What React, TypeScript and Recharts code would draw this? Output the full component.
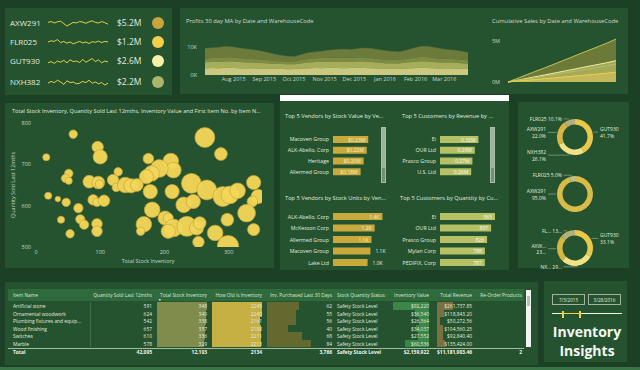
import React from 'react'
import {
  LineChart,
  Line,
  AreaChart,
  Area,
  XAxis,
  YAxis,
  ScatterChart,
  Scatter,
  ZAxis,
  BarChart,
  Bar,
  LabelList,
  PieChart,
  Pie,
  Cell,
} from 'recharts'

const FONT = '"Open Sans", "Noto Sans", Arial, sans-serif'
const PAGE_BG = '#1b4025'
const PANEL_BG = '#25532f'
const TXT = '#e3ebdf'
const TICK = '#c9d6c4'

// KPI strip
const warehouseCodes = ['AXW291', 'FLR025', 'GUT930', 'NXH382']
const warehouseSales = ['$5.2M', '$1.2M', '$2.6M', '$2.2M']
const warehouseDots = ['#c9a53c', '#f4cf4c', '#f6f1a4', '#a9b66c']
const sparkAXW291 = [52, 55, 50, 54, 56, 48, 40, 46, 52, 50, 55, 53, 49, 54, 57, 52, 50, 55, 51, 46]
const sparkFLR025 = [50, 54, 52, 58, 48, 52, 46, 50, 44, 48, 52, 47, 50, 45, 51, 49, 53, 48, 52, 50]
const sparkGUT930 = [44, 48, 42, 50, 46, 52, 44, 54, 48, 50, 45, 55, 46, 52, 58, 48, 54, 44, 50, 47]
const sparkNXH382 = [46, 52, 48, 56, 50, 42, 54, 48, 50, 44, 46, 52, 48, 56, 46, 50, 44, 48, 40, 46]
const sparklines = [sparkAXW291, sparkFLR025, sparkGUT930, sparkNXH382]

// Profits 30 day MA (K), day offset from 7/3/2015
const profitDays = [0, 7, 14, 21, 28, 35, 42, 49, 56, 63, 70, 77, 84, 91, 98, 105, 112, 119, 126, 133, 140, 147, 154, 161, 168, 175, 182, 189, 196, 203, 210, 217, 224, 231, 238, 245, 252, 259, 266]
const profitGUT930 = [2.3, 2.5, 2.4, 2.6, 2.5, 2.4, 2.3, 2.4, 2.2, 2.3, 2.1, 2.2, 2.0, 2.1, 2.3, 2.4, 2.5, 2.4, 2.6, 2.5, 2.4, 2.5, 2.6, 2.5, 2.4, 2.3, 2.2, 2.3, 2.1, 2.3, 2.4, 2.6, 2.5, 2.4, 2.3, 2.4, 2.3, 2.2, 2.1]
const profitFLR025 = [2.2, 2.1, 2.3, 2.2, 2.4, 2.2, 2.1, 2.0, 2.1, 1.9, 1.8, 1.7, 1.8, 1.7, 1.9, 2.0, 2.1, 2.2, 2.1, 2.3, 2.2, 2.1, 2.2, 2.3, 2.2, 2.1, 2.0, 1.9, 2.0, 2.1, 2.2, 2.3, 2.4, 2.2, 2.1, 2.0, 2.1, 2.0, 1.9]
const profitNXH382 = [1.3, 1.4, 1.3, 1.5, 1.4, 1.3, 1.4, 1.3, 1.2, 1.2, 1.1, 1.0, 1.0, 1.1, 1.2, 1.3, 1.3, 1.4, 1.3, 1.4, 1.5, 1.4, 1.4, 1.5, 1.4, 1.3, 1.3, 1.2, 1.3, 1.3, 1.4, 1.5, 1.5, 1.4, 1.4, 1.3, 1.3, 1.2, 1.2]
const profitAXW291 = [3.6, 3.6, 3.8, 3.8, 3.6, 3.6, 3.4, 3.2, 3.0, 2.6, 2.4, 2.0, 1.8, 1.6, 1.9, 2.2, 2.3, 2.4, 2.8, 2.8, 3.0, 3.0, 3.1, 3.2, 3.4, 3.3, 3.1, 2.9, 2.8, 3.0, 3.4, 3.6, 3.8, 3.8, 3.5, 3.3, 3.1, 3.0, 2.7]
const monthTicks = [29, 60, 90, 121, 151, 182, 213, 242]
const monthLabels = ['Aug 2015', 'Sep 2015', 'Oct 2015', 'Nov 2015', 'Dec 2015', 'Jan 2016', 'Feb 2016', 'Mar 2016']

// Cumulative sales ($M)
const cumDays = [0, 29, 60, 90, 121, 151, 182, 213, 242, 266]
const cumAXW291 = [0, 0.56, 1.16, 1.72, 2.33, 2.92, 3.55, 4.15, 4.72, 5.25]
const cumGUT930 = [0, 0.27, 0.57, 0.86, 1.16, 1.45, 1.76, 2.06, 2.34, 2.6]
const cumNXH382 = [0, 0.23, 0.47, 0.71, 0.96, 1.21, 1.47, 1.72, 1.96, 2.2]
const cumFLR025 = [0, 0.13, 0.27, 0.4, 0.54, 0.67, 0.81, 0.94, 1.08, 1.2]

// Bubble chart: stock inventory, qty sold, inventory value ($K)
const stockInventory = [16, 58, 263, 288, 96, 100, 175, 210, 214, 192, 180, 172, 128, 51, 46, 51, 83, 97, 99, 120, 125, 139, 148, 157, 242, 266, 212, 178, 19, 34, 47, 66, 89, 95, 106, 181, 230, 245, 291, 302, 314, 339, 346, 337, 328, 39, 69, 75, 95, 95, 53, 168, 163, 201, 206, 214, 206, 235, 250, 255, 298, 279, 253, 299, 339]
const qtySold = [717, 773, 765, 725, 742, 718, 714, 708, 686, 690, 678, 670, 682, 678, 666, 660, 658, 656, 652, 662, 644, 650, 648, 650, 654, 638, 634, 634, 624, 616, 608, 594, 614, 608, 612, 590, 602, 610, 622, 626, 636, 656, 622, 610, 582, 566, 567, 554, 556, 538, 532, 555, 538, 570, 570, 546, 538, 550, 546, 558, 566, 534, 512, 502, 542]
const inventoryValueK = [10, 14, 78, 32, 26, 40, 22, 48, 48, 62, 48, 40, 14, 14, 14, 10, 32, 32, 14, 26, 14, 48, 40, 32, 78, 78, 40, 40, 10, 6, 14, 17, 22, 14, 26, 48, 48, 40, 78, 62, 48, 40, 40, 22, 62, 10, 17, 17, 22, 22, 14, 48, 14, 40, 20, 62, 40, 78, 40, 32, 32, 48, 26, 90, 29]

// Top 5 bar charts
const vendorValueNames = ['Macoven Group', 'ALK-Abello, Corp', 'Heritage', 'Allermed Group']
const vendorValues = [0.23, 0.22, 0.2, 0.18]
const customerRevNames = ['Ei', 'OUR Ltd', 'Prasco Group', 'U.S. Ltd']
const customerRevenue = [0.32, 0.29, 0.27, 0.26]
const vendorUnitNames = ['ALK-Abello, Corp', 'McKesson Corp', 'Allermed Group', 'Macoven Group', 'Lake Ltd']
const vendorUnits = [1.4, 1.18, 1.09, 1.06, 0.98]
const customerQtyNames = ['Ei', 'OUR Ltd', 'Prasco Group', 'Mylan Corp', 'PEDIFIX, Corp']
const customerQty = [965, 897, 826, 788, 787]

// Donuts (share %)
const donut1Names = ['GUT930', 'NXH382', 'AXW291', 'FLR025']
const donut1Pct = [41.7, 26.1, 22.0, 10.1]
const donut1Colors = ['#eac84a', '#f1e384', '#d5b546', '#b2b077']
const donut2Names = ['AXW291', 'FLR025']
const donut2Pct = [95.0, 5.0]
const donut2Colors = ['#d9bb48', '#c2bd86']
const donut3Names = ['GUT930', 'NX...', 'AXW...', 'FL...']
const donut3Pct = [33.1, 29.5, 23.6, 13.8]
const donut3Colors = ['#eac84a', '#f1e384', '#d5b546', '#b2b077']

// Table
const tableHeaders = ['Item Name', 'Quantity Sold Last 12mths', 'Total Stock Inventory', 'How Old is Inventory', 'Inv. Purchased Last 30 Days', 'Stock Quantity Status', 'Inventory Value', 'Total Revenue', 'Re-Order Products']
const itemNames = ['Artificial stone', 'Ornamental woodwork', 'Plumbing fixtures and equip...', 'Wood finishing', 'Switches', 'Marble']
const qtySold12 = [591, 624, 542, 657, 610, 578]
const totalStock = [348, 340, 338, 337, 336, 329]
const howOld = [2245, 2240, 2161, 2188, 2211, 2213]
const invPurchased30 = [62, 55, 56, 40, 68, 84]
const stockStatus = ['Safety Stock Level', 'Safety Stock Level', 'Safety Stock Level', 'Safety Stock Level', 'Safety Stock Level', 'Safety Stock Level']
const inventoryValue = [92220, 36540, 26364, 34037, 27552, 60536]
const totalRevenue = [261737.85, 118843.2, 50272.56, 104560.25, 92840.4, 135424.0]
const totalsRow = ['Total', '42,095', '12,103', '2134', '3,766', 'Safety Stock Level', '$2,159,922', '$11,181,903.46', '2']

const dateFrom = '7/3/2015'
const dateTo = '3/28/2016'

function Txt({ x, y, size = 5.5, color = TXT, weight = 400, align = 'left', children }: any) {
  const tx = align === 'right' ? '-100%' : align === 'center' ? '-50%' : '0'
  return (
    <div
      style={{
        position: 'absolute',
        left: x,
        top: y,
        transform: `translate(${tx}, -50%)`,
        fontSize: size,
        lineHeight: 1,
        color,
        fontWeight: weight,
        whiteSpace: 'nowrap',
      }}
    >
      {children}
    </div>
  )
}

function Box({ x, y, w, h, bg, style }: any) {
  return <div style={{ position: 'absolute', left: x, top: y, width: w, height: h, background: bg, ...style }} />
}

function Spark({ values, x, y }: any) {
  const data = values.map((v: number, i: number) => ({ i, v }))
  return (
    <div style={{ position: 'absolute', left: x, top: y }}>
      <LineChart width={60} height={14} data={data} margin={{ top: 1, right: 0, bottom: 1, left: 0 }}>
        <XAxis dataKey="i" hide />
        <YAxis hide domain={[30, 70]} />
        <Line type="linear" dataKey="v" stroke="#e5d348" strokeWidth={1} dot={false} isAnimationActive={false} />
      </LineChart>
    </div>
  )
}

function ProfitsChart() {
  const data = profitDays.map((d, i) => ({
    day: d,
    GUT930: profitGUT930[i],
    FLR025: profitFLR025[i],
    NXH382: profitNXH382[i],
    AXW291: profitAXW291[i],
  }))
  const layers = [
    ['GUT930', '#cbc981'],
    ['FLR025', '#a7ae5b'],
    ['NXH382', '#7e8b43'],
    ['AXW291', '#6c7a3b'],
  ]
  return (
    <div style={{ position: 'absolute', left: 180, top: 30 }}>
      <AreaChart width={292} height={60} data={data} margin={{ top: 14, right: 4, bottom: 3, left: 0 }}>
        <XAxis
          dataKey="day"
          type="number"
          domain={[0, 266]}
          ticks={monthTicks}
          interval={0}
          tickFormatter={(d: number) => monthLabels[monthTicks.indexOf(d)] ?? ''}
          axisLine={false}
          tickLine={false}
          tickSize={0}
          tickMargin={2}
          height={12}
          tick={{ fontSize: 5.5, fill: TICK }}
        />
        <YAxis
          domain={[0, 11]}
          ticks={[0, 10]}
          tickFormatter={(v: number) => `${v}K`}
          width={25}
          axisLine={false}
          tickLine={false}
          tickSize={0}
          tickMargin={8}
          tick={{ fontSize: 5.5, fill: TICK }}
        />
        {layers.map(([key, color]) => (
          <Area
            key={key}
            type="linear"
            dataKey={key}
            stackId="p"
            fill={color}
            fillOpacity={1}
            stroke={color}
            strokeWidth={0.5}
            isAnimationActive={false}
          />
        ))}
      </AreaChart>
    </div>
  )
}

function CumulativeChart() {
  const data = cumDays.map((d, i) => ({
    day: d,
    AXW291: cumAXW291[i],
    GUT930: cumGUT930[i],
    NXH382: cumNXH382[i],
    FLR025: cumFLR025[i],
  }))
  const series = [
    ['AXW291', '#6b7a39', '#c3c25a'],
    ['GUT930', '#a0a754', '#f3f1a9'],
    ['NXH382', '#a5aa58', '#b8bd6a'],
    ['FLR025', '#c4b95a', '#ecd04a'],
  ]
  return (
    <div style={{ position: 'absolute', left: 485, top: 30 }}>
      <AreaChart width={135} height={55} data={data} margin={{ top: 7, right: 4, bottom: 3, left: 0 }}>
        <XAxis dataKey="day" type="number" domain={[0, 266]} hide />
        <YAxis
          domain={[0, 5.5]}
          ticks={[0, 5]}
          tickFormatter={(v: number) => `${v}M`}
          width={23}
          axisLine={false}
          tickLine={false}
          tickSize={0}
          tickMargin={8}
          tick={{ fontSize: 5.5, fill: TICK }}
        />
        {series.map(([key, fill, stroke]) => (
          <Area
            key={key}
            type="linear"
            dataKey={key}
            fill={fill}
            fillOpacity={1}
            stroke={stroke}
            strokeWidth={1}
            isAnimationActive={false}
          />
        ))}
      </AreaChart>
    </div>
  )
}

function BubbleChart() {
  const data = stockInventory.map((x, i) => ({ x, y: qtySold[i], z: inventoryValueK[i] }))
  return (
    <div style={{ position: 'absolute', left: 0, top: 100 }}>
      <ScatterChart width={275} height={170} margin={{ top: 23, right: 13, bottom: 3, left: 14 }}>
        <XAxis
          type="number"
          dataKey="x"
          domain={[0, 352]}
          ticks={[0, 100, 200, 300]}
          allowDataOverflow
          axisLine={false}
          tickLine={false}
          tickSize={0}
          tickMargin={3}
          height={20}
          tick={{ fontSize: 5.5, fill: TICK }}
        />
        <YAxis
          type="number"
          dataKey="y"
          domain={[500, 800]}
          ticks={[500, 600, 700, 800]}
          allowDataOverflow
          width={22}
          axisLine={false}
          tickLine={false}
          tickSize={0}
          tickMargin={5}
          tick={{ fontSize: 5.5, fill: TICK }}
        />
        <ZAxis type="number" dataKey="z" domain={[0, 90]} range={[0, 360]} />
        <Scatter
          data={data}
          fill="#f3d657"
          fillOpacity={0.96}
          stroke="#c6a53c"
          strokeWidth={0.7}
          isAnimationActive={false}
        />
      </ScatterChart>
    </div>
  )
}

function TopBars({ x, y, w, h, yWidth, names, values, max, color, fmt, labelColor, outsideBelow }: any) {
  const data = names.map((n: string, i: number) => ({ name: n, v: values[i] }))
  const renderLabel = (p: any) => {
    const bx = p.x ?? p.viewBox?.x
    const by = p.y ?? p.viewBox?.y
    const bw = p.width ?? p.viewBox?.width
    const bh = p.height ?? p.viewBox?.height
    const outside = outsideBelow !== undefined && p.value < outsideBelow
    return (
      <text
        x={outside ? bx + bw + 5 : bx + bw - 3}
        y={by + bh / 2}
        textAnchor={outside ? 'start' : 'end'}
        dominantBaseline="central"
        fontSize={5}
        fill={outside ? TXT : labelColor}
      >
        {fmt(p.value)}
      </text>
    )
  }
  const renderTick = (p: any) => (
    <text x={p.x} y={p.y} textAnchor="end" dominantBaseline="central" fontSize={5.3} fill={TXT}>
      {p.payload.value}
    </text>
  )
  return (
    <div style={{ position: 'absolute', left: x, top: y }}>
      <BarChart layout="vertical" width={w} height={h} data={data} margin={{ top: 0, right: 0, bottom: 0, left: 0 }}>
        <XAxis type="number" hide domain={[0, max]} />
        <YAxis
          type="category"
          dataKey="name"
          width={yWidth}
          interval={0}
          axisLine={false}
          tickLine={false}
          tickSize={0}
          tickMargin={4}
          tick={renderTick}
        />
        <Bar dataKey="v" fill={color} barSize={7} isAnimationActive={false}>
          <LabelList dataKey="v" content={renderLabel} />
        </Bar>
      </BarChart>
    </div>
  )
}

const RAD = Math.PI / 180

function donutLabel(p: any) {
  const { cx, cy, midAngle, outerRadius, percent, name, value } = p
  const ang = percent > 0.5 ? 180 : midAngle
  const ex = cx + (outerRadius + 1) * Math.cos(-ang * RAD)
  const ey = cy + (outerRadius + 1) * Math.sin(-ang * RAD)
  const truncated = String(name).endsWith('...')
  const pctText = truncated ? `${Math.floor(value)}...` : `${value.toFixed(1)}%`
  const stroke = '#9fb59c'
  const s = Math.sin(ang * RAD)
  if (s > 0.85 || (truncated && Math.abs(s) > 0.85)) {
    const tx = cx - 13
    return (
      <g>
        <line x1={tx + 1.5} y1={ey} x2={ex} y2={ey} stroke={stroke} strokeWidth={0.6} />
        <text x={tx} y={ey} textAnchor="end" dominantBaseline="central" fontSize={5} fill={TXT}>
          {name} {pctText}
        </text>
      </g>
    )
  }
  const right = Math.cos(ang * RAD) > 0
  const tx = right ? cx + 25 : cx - 29
  return (
    <g>
      <line x1={right ? tx - 2 : tx + 2} y1={ey} x2={ex} y2={ey} stroke={stroke} strokeWidth={0.6} />
      <text x={tx} y={ey - 3} textAnchor={right ? 'start' : 'end'} dominantBaseline="central" fontSize={5} fill={TXT}>
        {name}
      </text>
      <text x={tx} y={ey + 3.5} textAnchor={right ? 'start' : 'end'} dominantBaseline="central" fontSize={5} fill={TXT}>
        {pctText}
      </text>
    </g>
  )
}

function Donuts() {
  const sets = [
    [donut1Names, donut1Pct, donut1Colors, 35],
    [donut2Names, donut2Pct, donut2Colors, 92],
    [donut3Names, donut3Pct, donut3Colors, 146],
  ] as any[]
  return (
    <div style={{ position: 'absolute', left: 518, top: 102 }}>
      <PieChart width={111} height={172} margin={{ top: 0, right: 0, bottom: 0, left: 0 }}>
        {sets.map(([names, pcts, colors, cy], k) => (
          <Pie
            key={k}
            data={names.map((n: string, i: number) => ({ name: n, value: pcts[i] }))}
            dataKey="value"
            nameKey="name"
            cx={57}
            cy={cy}
            innerRadius={12.5}
            outerRadius={18}
            startAngle={90}
            endAngle={-270}
            stroke="none"
            label={donutLabel}
            labelLine={false}
            isAnimationActive={false}
          >
            {names.map((n: string, i: number) => (
              <Cell key={n} fill={colors[i]} />
            ))}
          </Pie>
        ))}
      </PieChart>
    </div>
  )
}

const colLeft = [13, 90, 157, 212, 267, 337, 393, 435, 478]
const colRight = [88, 152, 207, 262, 332, 390, 429, 472, 522]
const colAlign = ['left', 'right', 'right', 'right', 'right', 'left', 'right', 'right', 'right']

function InventoryTable() {
  const rowTop = 302.25
  const pitch = 7.5
  const money = (v: number) => '$' + v.toLocaleString('en-US')
  const money2 = (v: number) => '$' + v.toLocaleString('en-US', { minimumFractionDigits: 2, maximumFractionDigits: 2 })
  const rows = itemNames.map((n, i) => [
    n,
    String(qtySold12[i]),
    String(totalStock[i]),
    String(howOld[i]),
    String(invPurchased30[i]),
    stockStatus[i],
    money(inventoryValue[i]),
    money2(totalRevenue[i]),
    '',
  ])
  const maxStock = Math.max(...totalStock)
  const maxOld = Math.max(...howOld)
  const maxValue = Math.max(...inventoryValue)
  const maxRevenue = Math.max(...totalRevenue)
  const cellX = (c: number) => (colAlign[c] === 'right' ? colRight[c] : colLeft[c])
  return (
    <>
      <Box x={8} y={288.5} w={516} h={12} bg="#2e6a3c" />
      {tableHeaders.map((t, c) => (
        <Txt key={t} x={cellX(c)} y={294.5} size={4.8} align={colAlign[c]} color="#dfe8dc">
          {t}
        </Txt>
      ))}
      <Txt x={158} y={299.6} size={3.5} color="#e8efe6">
        ▼
      </Txt>
      {itemNames.map((n, i) => {
        const top = rowTop + i * pitch
        return (
          <React.Fragment key={n}>
            <Box x={157} y={top} w={(totalStock[i] / maxStock) * 50} h={pitch} bg="#7f8c4b" />
            <Box x={212} y={top} w={(howOld[i] / maxOld) * 50} h={pitch} bg="#c7b043" />
            <Box x={267} y={top} w={(invPurchased30[i] / 125) * 65} h={pitch} bg="#66692f" />
            <Box
              x={429 - (inventoryValue[i] / maxValue) * 36}
              y={top}
              w={(inventoryValue[i] / maxValue) * 36}
              h={pitch}
              bg="#3b8748"
            />
            <Box x={437} y={top} w={(totalRevenue[i] / maxRevenue) * 16} h={pitch} bg="#7a7040" />
          </React.Fragment>
        )
      })}
      <Box x={89.5} y={302} w={0.6} h={45} bg="#3d7048" />
      {rows.map((r, i) =>
        r.map((t, c) => (
          <Txt key={`${i}-${c}`} x={cellX(c)} y={rowTop + i * pitch + pitch / 2} size={4.9} align={colAlign[c]}>
            {t}
          </Txt>
        ))
      )}
      <Box x={8} y={347.5} w={516} h={0.7} bg="#9fbc9c" />
      {totalsRow.map((t, c) => (
        <Txt key={`t${c}`} x={cellX(c)} y={351.5} size={4.9} weight={700} align={colAlign[c]} color="#f2f6ef">
          {t}
        </Txt>
      ))}
      <Box x={526} y={290} w={5} h={57} bg="#f2f4f0" />
      <Box x={527} y={296} w={3} h={10} bg="#b9c2b7" />
    </>
  )
}

export default function App() {
  return (
    <div
      style={{
        position: 'absolute',
        left: 0,
        top: 0,
        width: 640,
        height: 370,
        background: PAGE_BG,
        overflow: 'hidden',
        fontFamily: FONT,
      }}
    >
      {/* panels */}
      <Box x={5} y={8} w={167} h={87} bg={PANEL_BG} />
      <Box x={180} y={8} w={448} h={86} bg={PANEL_BG} />
      <Box x={5} y={103} w={269} h={165} bg={PANEL_BG} />
      <Box x={280} y={101} w={229} h={169} bg={PANEL_BG} />
      <Box x={280} y={95} w={229} h={6} bg="#ffffff" />
      <Box x={518} y={102} w={111} h={166} bg={PANEL_BG} />
      <Box x={5} y={282} w={533} h={83} bg={PANEL_BG} />
      <Box x={544} y={281} w={83} h={81} bg={PANEL_BG} />
      <Box x={0} y={367} w={640} h={3} bg="#3a7446" />

      {/* KPI strip */}
      {warehouseCodes.map((code, i) => {
        const cy = [22.7, 41.7, 61, 81.7][i]
        return (
          <React.Fragment key={code}>
            <Txt x={10} y={cy} size={8}>
              {code}
            </Txt>
            <Spark values={sparklines[i]} x={48} y={cy - 7} />
            <Txt x={117} y={cy} size={8.5}>
              {warehouseSales[i]}
            </Txt>
            <div
              style={{
                position: 'absolute',
                left: 152,
                top: cy - 6,
                width: 12,
                height: 12,
                borderRadius: 6,
                background: warehouseDots[i],
              }}
            />
          </React.Fragment>
        )
      })}

      {/* top charts */}
      <Txt x={186} y={21.7} size={5.8} color="#d3ddcf">
        Profits 30 day MA by Date and WarehouseCode
      </Txt>
      <ProfitsChart />
      <Txt x={492} y={21.7} size={5.8} color="#d3ddcf">
        Cumulative Sales by Date and WarehouseCode
      </Txt>
      <CumulativeChart />

      {/* bubble chart */}
      <Txt x={12} y={112.3} size={5.6} color="#e3ebdf">
        Total Stock Inventory, Quantity Sold Last 12mths, Inventory Value and First Item No. by Item N...
      </Txt>
      <BubbleChart />
      <Txt x={148} y={262.3} size={5.4} align="center" color={TICK}>
        Total Stock Inventory
      </Txt>
      <div
        style={{
          position: 'absolute',
          left: 14,
          top: 185,
          transform: 'translate(-50%, -50%) rotate(-90deg)',
          fontSize: 5.4,
          lineHeight: 1,
          color: TICK,
          whiteSpace: 'nowrap',
        }}
      >
        Quantity Sold Last 12mths
      </div>

      {/* top 5 bars */}
      <Txt x={285} y={117} size={5.7}>
        Top 5 Vendors by Stock Value by Ve...
      </Txt>
      <Txt x={402} y={117} size={5.7}>
        Top 5 Customers by Revenue by ...
      </Txt>
      <Txt x={285} y={199} size={5.7}>
        Top 5 Vendors by Stock Units by Ven...
      </Txt>
      <Txt x={400} y={199} size={5.7}>
        Top 5 Customers by Quantity by Cu...
      </Txt>
      <TopBars
        x={280}
        y={133.5}
        w={99}
        h={43}
        yWidth={53}
        names={vendorValueNames}
        values={vendorValues}
        max={0.3}
        color="#c9a93c"
        labelColor="#f6efc9"
        fmt={(v: number) => `$${v.toFixed(2)}M`}
      />
      <TopBars
        x={382}
        y={133.5}
        w={106}
        h={43}
        yWidth={58}
        names={customerRevNames}
        values={customerRevenue}
        max={0.4}
        color="#b6c165"
        labelColor="#f7f9ee"
        fmt={(v: number) => `${v.toFixed(2)}M`}
      />
      <TopBars
        x={280}
        y={211.3}
        w={113}
        h={57.5}
        yWidth={53}
        names={vendorUnitNames}
        values={vendorUnits}
        max={1.7}
        color="#c9a93c"
        labelColor="#f6efc9"
        outsideBelow={1.08}
        fmt={(v: number) => `${v.toFixed(1)}K`}
      />
      <TopBars
        x={382}
        y={211.3}
        w={115}
        h={57.5}
        yWidth={58}
        names={customerQtyNames}
        values={customerQty}
        max={1000}
        color="#b6c165"
        labelColor="#f7f9ee"
        fmt={(v: number) => `${v}`}
      />
      <Box x={381} y={127} w={5} h={56} bg="#6f9272" style={{ border: '0.5px solid #a9bda8', boxSizing: 'border-box' }} />
      <Box x={382} y={128} w={3} h={40} bg="#9db39c" />
      <Box x={490} y={127} w={5} h={56} bg="#6f9272" style={{ border: '0.5px solid #a9bda8', boxSizing: 'border-box' }} />
      <Box x={491} y={128} w={3} h={40} bg="#9db39c" />

      {/* donuts */}
      <Donuts />

      {/* table */}
      <InventoryTable />

      {/* date slicer + title */}
      <div
        style={{
          position: 'absolute',
          left: 552,
          top: 294,
          width: 33,
          height: 11,
          border: '0.7px solid #9fb39f',
          boxSizing: 'border-box',
        }}
      />
      <div
        style={{
          position: 'absolute',
          left: 588,
          top: 294,
          width: 33,
          height: 11,
          border: '0.7px solid #9fb39f',
          boxSizing: 'border-box',
        }}
      />
      <Txt x={568.5} y={299.5} size={4.6} align="center">
        {dateFrom}
      </Txt>
      <Txt x={604.5} y={299.5} size={4.6} align="center">
        {dateTo}
      </Txt>
      <Box x={552} y={313.3} w={70} h={1.2} bg="#f2f2ea" />
      <Box x={563} y={313.3} w={17} h={1.2} bg="#efd34a" />
      <Box x={562.3} y={310.5} w={1.6} h={7} bg="#efd34a" />
      <Box x={579.3} y={310.5} w={1.6} h={7} bg="#efd34a" />
      <Txt x={587} y={332} size={14} weight={700} align="center" color="#f4f7f2">
        Inventory
      </Txt>
      <Txt x={587} y={351} size={14} weight={700} align="center" color="#f4f7f2">
        Insights
      </Txt>
    </div>
  )
}
